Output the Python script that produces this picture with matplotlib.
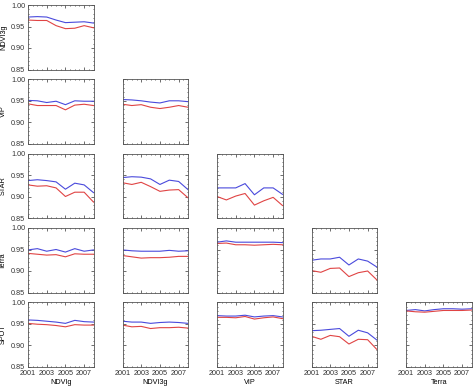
import matplotlib
matplotlib.use("Agg")
from matplotlib import pyplot as plt
from matplotlib.ticker import MultipleLocator

# years on the x axis
years = [2001, 2002, 2003, 2004, 2005, 2006, 2007, 2008]
row_names = ["NDVI3g", "VIP", "STAR", "Terra", "SPOT"]
col_names = ["NDVIg", "NDVI3g", "VIP", "STAR", "Terra"]

# (blue, red) for each panel, row by row
r1c1 = ([0.972, 0.973, 0.972, 0.965, 0.959, 0.960, 0.961, 0.958],
        [0.965, 0.964, 0.964, 0.952, 0.945, 0.946, 0.952, 0.947])

r2c1 = ([0.951, 0.950, 0.946, 0.949, 0.941, 0.950, 0.949, 0.949],
        [0.943, 0.939, 0.939, 0.939, 0.929, 0.940, 0.942, 0.939])
r2c2 = ([0.953, 0.952, 0.950, 0.947, 0.945, 0.950, 0.950, 0.948],
        [0.942, 0.939, 0.941, 0.935, 0.932, 0.935, 0.939, 0.935])

r3c1 = ([0.937, 0.939, 0.937, 0.934, 0.917, 0.931, 0.927, 0.909],
        [0.927, 0.924, 0.925, 0.920, 0.900, 0.910, 0.910, 0.887])
r3c2 = ([0.944, 0.946, 0.945, 0.941, 0.928, 0.938, 0.935, 0.916],
        [0.932, 0.928, 0.933, 0.923, 0.912, 0.915, 0.916, 0.897])
r3c3 = ([0.920, 0.920, 0.920, 0.930, 0.904, 0.920, 0.920, 0.905],
        [0.900, 0.892, 0.901, 0.907, 0.880, 0.890, 0.898, 0.879])

r4c1 = ([0.949, 0.952, 0.946, 0.950, 0.944, 0.952, 0.946, 0.949],
        [0.941, 0.939, 0.937, 0.938, 0.933, 0.940, 0.939, 0.939])
r4c2 = ([0.949, 0.947, 0.946, 0.946, 0.946, 0.948, 0.946, 0.947],
        [0.936, 0.933, 0.930, 0.931, 0.931, 0.932, 0.934, 0.934])
r4c3 = ([0.967, 0.970, 0.967, 0.967, 0.967, 0.967, 0.967, 0.966],
        [0.964, 0.965, 0.961, 0.961, 0.960, 0.961, 0.962, 0.961])
r4c4 = ([0.925, 0.928, 0.928, 0.932, 0.914, 0.928, 0.923, 0.909],
        [0.901, 0.897, 0.906, 0.907, 0.887, 0.896, 0.900, 0.879])

r5c1 = ([0.959, 0.958, 0.956, 0.954, 0.951, 0.958, 0.955, 0.954],
        [0.951, 0.949, 0.948, 0.946, 0.943, 0.948, 0.947, 0.947])
r5c2 = ([0.956, 0.954, 0.954, 0.951, 0.953, 0.954, 0.953, 0.951],
        [0.947, 0.943, 0.944, 0.939, 0.941, 0.941, 0.942, 0.940])
r5c3 = ([0.969, 0.968, 0.968, 0.970, 0.966, 0.968, 0.969, 0.966],
        [0.965, 0.965, 0.964, 0.967, 0.961, 0.964, 0.966, 0.962])
r5c4 = ([0.934, 0.935, 0.937, 0.939, 0.921, 0.935, 0.929, 0.912],
        [0.921, 0.914, 0.923, 0.920, 0.903, 0.914, 0.913, 0.890])
r5c5 = ([0.981, 0.983, 0.980, 0.983, 0.985, 0.985, 0.984, 0.985],
        [0.980, 0.978, 0.977, 0.979, 0.981, 0.981, 0.981, 0.982])

panels = [[r1c1],
          [r2c1, r2c2],
          [r3c1, r3c2, r3c3],
          [r4c1, r4c2, r4c3, r4c4],
          [r5c1, r5c2, r5c3, r5c4, r5c5]]

W, H = 474, 387
fig = plt.figure(figsize=(W / 100, H / 100), dpi=100)
plt.rcParams['font.family'] = ['Liberation Sans', 'DejaVu Sans']

lefts = [28, 122.5, 217, 311.5, 406]
tops = [5, 79.3, 153.5, 228, 302.3]
pw, ph = 65.5, 64.5
fs = 5.2

for i in range(5):
    for j in range(i + 1):
        blue, red = panels[i][j]
        ax = fig.add_axes([lefts[j] / W, 1 - (tops[i] + ph) / H, pw / W, ph / H])
        ax.plot(years, blue, color="#4a4adc", lw=0.8)
        ax.plot(years, red, color="#e04444", lw=0.8)
        ax.set_xlim(2001, 2008)
        ax.set_ylim(0.85, 1.00)
        ax.set_xticks([2001, 2003, 2005, 2007])
        ax.set_yticks([0.85, 0.90, 0.95, 1.00])
        ax.xaxis.set_minor_locator(MultipleLocator(0.5))
        ax.yaxis.set_minor_locator(MultipleLocator(0.01))
        ax.tick_params(which="both", direction="in", top=True, right=True,
                       labelsize=fs, colors="#333333", width=0.5, pad=2)
        ax.tick_params(which="major", length=2)
        ax.tick_params(which="minor", length=1)
        for s in ax.spines.values():
            s.set_linewidth(0.6)
            s.set_color("#555555")
        if j == 0:
            ax.set_yticklabels(["0.85", "0.90", "0.95", "1.00"])
            ax.set_ylabel(row_names[i], fontsize=fs, labelpad=3)
        else:
            ax.set_yticklabels([])
        if i == 4:
            ax.set_xlabel(col_names[j], fontsize=fs, labelpad=2)
        else:
            ax.set_xticklabels([])

fig.savefig("out.png", dpi=100)
